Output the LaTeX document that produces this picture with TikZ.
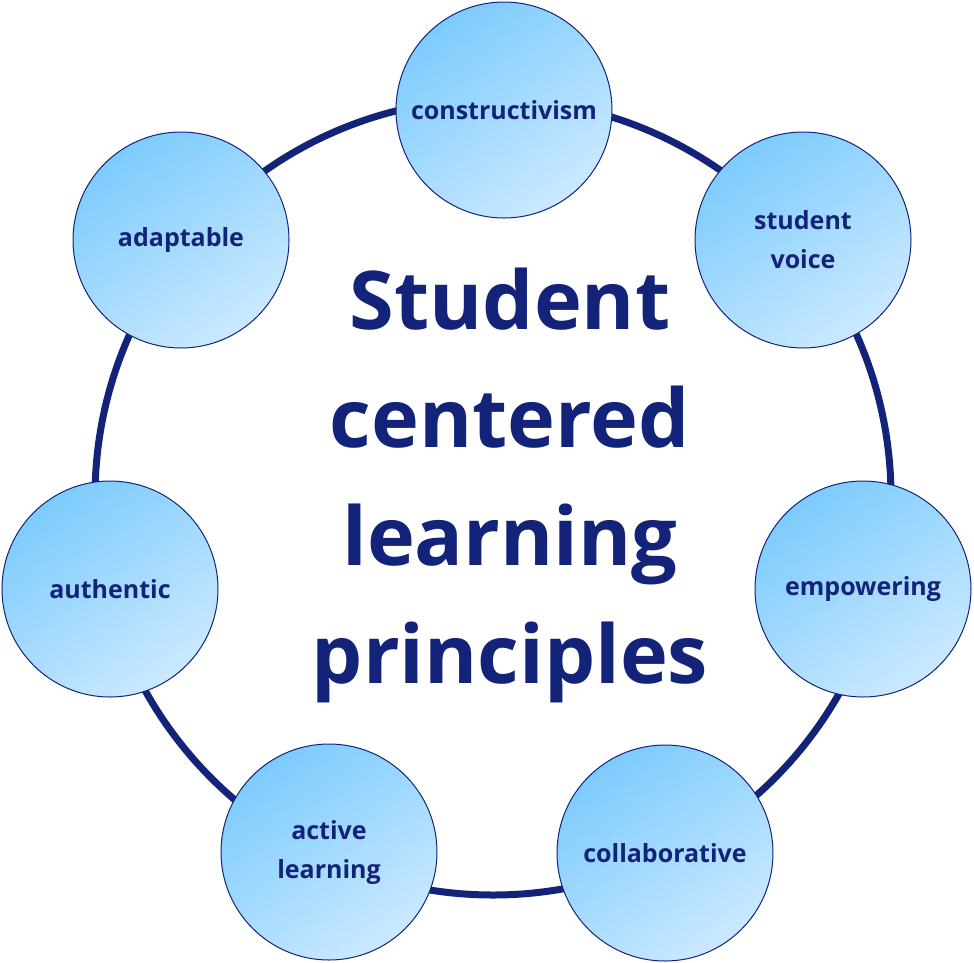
\documentclass[tikz,border=0pt]{standalone}
\usepackage{fontspec}
\setmainfont{Open Sans}
\definecolor{navy}{HTML}{13237A}
\definecolor{lb1}{HTML}{7CCBFD}
\definecolor{lb2}{HTML}{CBE9FF}
\begin{document}
\begin{tikzpicture}[x=1pt,y=-1pt,
  bub/.style={circle,draw=navy,line width=1pt,minimum size=216pt,inner sep=0pt,
    top color=lb1,bottom color=lb2,shading angle=35,text=navy,align=center,
    font=\fontsize{25}{39}\selectfont\bfseries}]
\useasboundingbox (0,0) rectangle (974,962);
\node[circle,draw=navy,line width=7pt,minimum size=796pt,inner sep=0pt] (ring) at (493,497) {};
\node[bub] (a) at (504,110) {constructivism};
\node[bub] (b) at (803,240) {student\\voice};
\node[bub] (c) at (863,589) {empowering};
\node[bub] (d) at (665,853) {collaborative};
\node[bub] (e) at (329,852) {active\\learning};
\node[bub] (f) at (110,589) {authentic};
\node[bub] (g) at (181,240) {adaptable};
\node[text=navy,align=center,font=\fontsize{81}{118}\selectfont\bfseries] (t) at (510,485) {Student\\centered\\learning\\principles};
\end{tikzpicture}
\end{document}
